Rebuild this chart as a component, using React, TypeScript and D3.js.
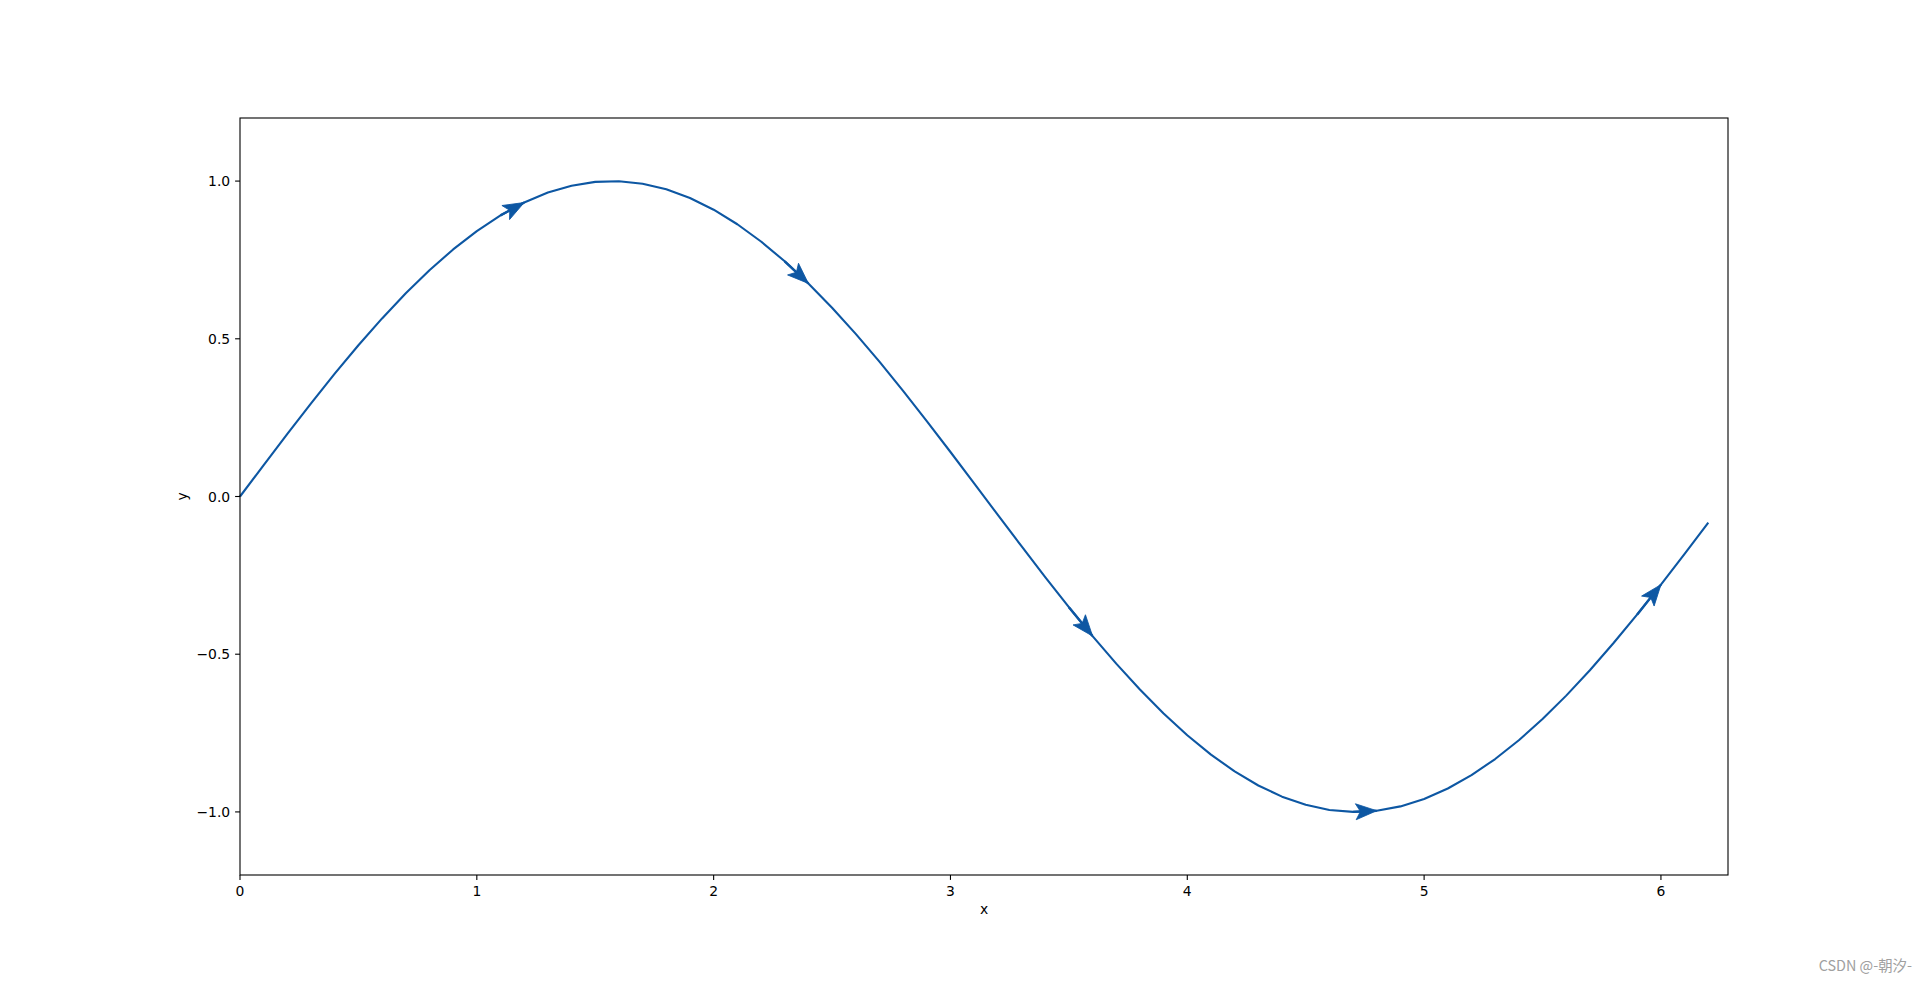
import React from "react";
import * as d3 from "d3";

// sampled curve, x step 0.1
const xs = [
  0.0, 0.1, 0.2, 0.3, 0.4, 0.5, 0.6, 0.7, 0.8, 0.9, 1.0, 1.1, 1.2, 1.3, 1.4, 1.5,
  1.6, 1.7, 1.8, 1.9, 2.0, 2.1, 2.2, 2.3, 2.4, 2.5, 2.6, 2.7, 2.8, 2.9, 3.0, 3.1,
  3.2, 3.3, 3.4, 3.5, 3.6, 3.7, 3.8, 3.9, 4.0, 4.1, 4.2, 4.3, 4.4, 4.5, 4.6, 4.7,
  4.8, 4.9, 5.0, 5.1, 5.2, 5.3, 5.4, 5.5, 5.6, 5.7, 5.8, 5.9, 6.0, 6.1, 6.2,
];
const ys = [
  0.0, 0.0998, 0.1987, 0.2955, 0.3894, 0.4794, 0.5646, 0.6442, 0.7174, 0.7833,
  0.8415, 0.8912, 0.932, 0.9636, 0.9854, 0.9975, 0.9996, 0.9917, 0.9738, 0.9463,
  0.9093, 0.8632, 0.8085, 0.7457, 0.6755, 0.5985, 0.5155, 0.4274, 0.335, 0.2392,
  0.1411, 0.0416, -0.0584, -0.1577, -0.2555, -0.3508, -0.4425, -0.5298, -0.6119,
  -0.6878, -0.7568, -0.8183, -0.8716, -0.9162, -0.9516, -0.9775, -0.9937, -0.9999,
  -0.9962, -0.9825, -0.9589, -0.9258, -0.8835, -0.8323, -0.7728, -0.7055, -0.6313,
  -0.5507, -0.4646, -0.3739, -0.2794, -0.1822, -0.0831,
];
// arrow heads sit on these sample points
const arrowTips = [1.2, 2.4, 3.6, 4.8, 6.0];

const xTicks = [0, 1, 2, 3, 4, 5, 6];
const yTicks = [-1.0, -0.5, 0.0, 0.5, 1.0];
const yTickLabels = ["\u22121.0", "\u22120.5", "0.0", "0.5", "1.0"];

const W = 1920;
const H = 983;
const left = 240, right = 1728, top = 118, bottom = 875;
const lineColor = "#0d57a3";
const font = "DejaVu Sans, sans-serif";
const fs = 13.9;

export default function App() {
  const x = d3.scaleLinear().domain([0, 2 * Math.PI]).range([left, right]);
  const y = d3.scaleLinear().domain([-1.2, 1.2]).range([bottom, top]);

  const pts: [number, number][] = xs.map((v, i) => [v, ys[i]]);
  const line = d3
    .line<[number, number]>()
    .x(d => x(d[0]))
    .y(d => y(d[1]));

  const heads = arrowTips.map(t => {
    const i = xs.findIndex(v => Math.abs(v - t) < 1e-6);
    const x1 = x(xs[i]), y1 = y(ys[i]);
    const x0 = x(xs[i - 1]), y0 = y(ys[i - 1]);
    const ang = (Math.atan2(y1 - y0, x1 - x0) * 180) / Math.PI;
    return { x0, y0, x1, y1, ang };
  });

  const L = 21, hw = 8;

  return (
    <svg
      width={W}
      height={H}
      style={{ position: "absolute", left: 0, top: 0, background: "#fff" }}
    >
      <rect x={0} y={0} width={W} height={H} fill="#fff" />
      <path d={line(pts) ?? ""} fill="none" stroke={lineColor} strokeWidth={2.1} strokeLinejoin="round" />

      {heads.map((h, k) => (
        <g key={k}>
          <line x1={h.x0} y1={h.y0} x2={h.x1} y2={h.y1} stroke={lineColor} strokeWidth={2.4} />
          <polygon
            transform={`translate(${h.x1},${h.y1}) rotate(${h.ang})`}
            points={`0,0 ${-L},${-hw} ${-L * 0.78},0 ${-L},${hw}`}
            fill={lineColor}
            stroke={lineColor}
            strokeWidth={0.8}
            strokeLinejoin="miter"
          />
        </g>
      ))}

      <rect x={left} y={top} width={right - left} height={bottom - top} fill="none" stroke="#000" strokeWidth={1.1} />

      {xTicks.map(t => (
        <g key={"x" + t}>
          <line x1={x(t)} x2={x(t)} y1={bottom} y2={bottom + 4.9} stroke="#000" strokeWidth={1.1} />
          <text x={x(t)} y={bottom + 20.5} textAnchor="middle" fontFamily={font} fontSize={fs}>
            {String(t)}
          </text>
        </g>
      ))}

      {yTicks.map((t, i) => (
        <g key={"y" + t}>
          <line x1={left - 4.9} x2={left} y1={y(t)} y2={y(t)} stroke="#000" strokeWidth={1.1} />
          <text x={left - 9.8} y={y(t) + 5} textAnchor="end" fontFamily={font} fontSize={fs}>
            {yTickLabels[i]}
          </text>
        </g>
      ))}

      <text x={(left + right) / 2} y={914} textAnchor="middle" fontFamily={font} fontSize={fs}>
        x
      </text>
      <text
        transform={`translate(187,${(top + bottom) / 2}) rotate(-90)`}
        textAnchor="middle"
        fontFamily={font}
        fontSize={fs}
      >
        y
      </text>

      <text x={1912} y={971} textAnchor="end" fontFamily="Noto Sans CJK SC, sans-serif" fontSize={14.4} fill="#a0a0a0">
        CSDN @-朝汐-
      </text>
    </svg>
  );
}
